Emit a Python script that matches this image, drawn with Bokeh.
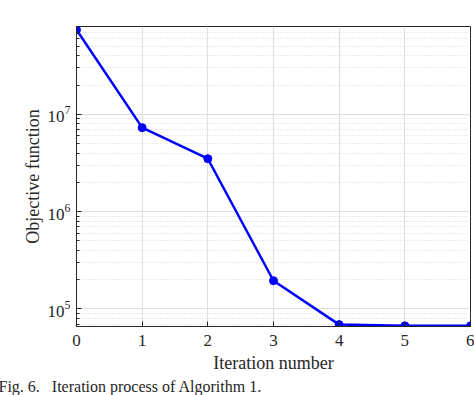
from bokeh.plotting import figure
from bokeh.models import FixedTicker, Range1d, Title
from bokeh.embed import file_html
from bokeh.resources import INLINE

iterations = [0, 1, 2, 3, 4, 5, 6]
objective = [7.4e7, 7.3e6, 3.5e6, 1.95e5, 6.9e4, 6.7e4, 6.7e4]
x_ticks = [0, 1, 2, 3, 4, 5, 6]
y_major = [1e5, 1e6, 1e7]
y_minor = [k * 10 ** e for e in (4, 5, 6, 7) for k in range(2, 10)]
caption = "Fig. 6.\u00a0\u00a0\u00a0Iteration process of Algorithm 1."

FONT = "Liberation Serif"

p = figure(width=474, height=395, y_axis_type="log",
           x_range=Range1d(0, 6), y_range=Range1d(6.6e4, 8.0e7),
           output_backend="svg", toolbar_location=None,
           min_border_left=76, min_border_right=4, min_border_top=26, min_border_bottom=69)

p.outline_line_color = "#262626"
p.outline_line_width = 1
p.background_fill_color = "white"

p.line(iterations, objective, line_color="#0000ff", line_width=2.5)
p.scatter(iterations, objective, size=8, fill_color="#0000ff", line_color="#0000ff")

p.xaxis.ticker = FixedTicker(ticks=x_ticks)
p.yaxis.ticker = FixedTicker(ticks=y_major, minor_ticks=y_minor)

for ax in (p.xaxis[0], p.yaxis[0]):
    ax.major_tick_in = 5
    ax.major_tick_out = 0
    ax.minor_tick_in = 3
    ax.minor_tick_out = 0
    ax.axis_line_color = "#262626"
    ax.major_tick_line_color = "#262626"
    ax.minor_tick_line_color = "#262626"
    ax.major_label_text_font = FONT
    ax.major_label_text_font_size = "17px"
    ax.major_label_text_color = "#262626"
    ax.axis_label_text_font = FONT
    ax.axis_label_text_font_size = "18px"
    ax.axis_label_text_font_style = "normal"
    ax.axis_label_text_color = "#262626"

p.xaxis.axis_label = "Iteration number"
p.yaxis.axis_label = "Objective function"
p.xaxis.major_label_standoff = 8
p.xaxis.axis_label_standoff = 4
p.yaxis.major_label_standoff = 6
p.yaxis.axis_label_standoff = 2

p.xgrid.ticker = FixedTicker(ticks=x_ticks)
p.xgrid.grid_line_color = "#dedede"
p.ygrid.ticker = FixedTicker(ticks=y_major, minor_ticks=y_minor)
p.ygrid.grid_line_color = "#dedede"
p.ygrid.minor_grid_line_color = "#d6d6d6"
p.ygrid.minor_grid_line_dash = "1 2"

p.add_layout(Title(text=caption, align="left", offset=-78, standoff=0,
                   text_font=FONT, text_font_size="16px", text_font_style="normal",
                   text_color="#262626"), "below")

open("out.html", "w").write(file_html(p, INLINE))
